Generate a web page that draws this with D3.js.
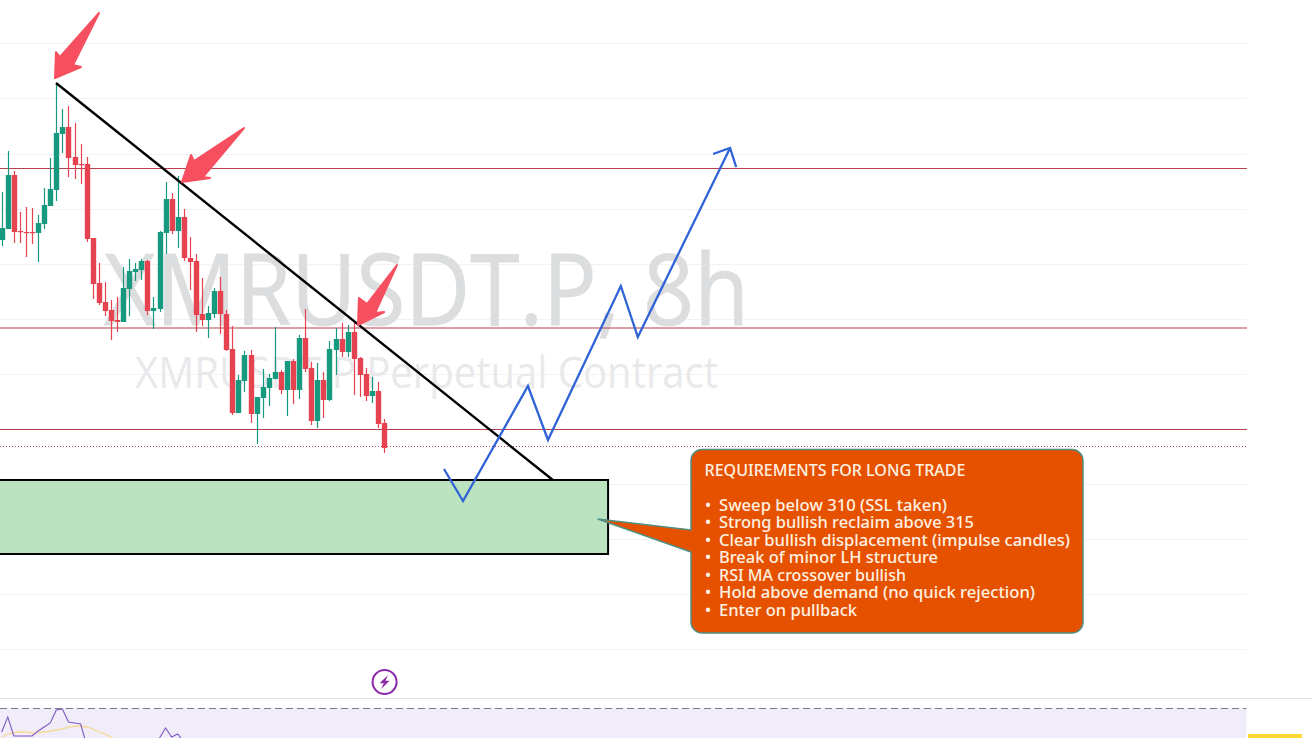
<!DOCTYPE html>
<html>
<head>
<meta charset="utf-8">
<style>
html,body{margin:0;padding:0;background:#fff;overflow:hidden}
svg{display:block}
</style>
<script src="https://cdn.jsdelivr.net/npm/d3@7/dist/d3.min.js"></script>
</head>
<body>
<svg id="chart" width="1312" height="738"></svg>
<script>
// Candles (price units estimated; the price axis labels are not shown)
const opens  = [363.8,366.0,376.8,365.6,365.4,365.4,365.2,367.0,370.6,373.8,385.0,386.4,380.4,379.0,379.0,364.2,355.2,351.4,349.8,347.8,347.4,354.0,357.4,357.8,359.6,349.6,350.0,365.2,372.0,365.6,368.4,360.2,359.6,349.0,347.8,349.0,353.6,349.0,342.0,329.2,335.6,340.8,329.0,332.2,334.2,336.0,337.4,333.8,339.6,333.8,344.2,338.2,327.6,335.8,331.8,341.8,344.0,341.4,345.4,340.2,337.0,332.6,333.6,327.2];
const highs  = [373.4,381.6,377.6,369.4,370.4,370.2,368.8,374.2,380.2,395.2,390.0,390.6,387.2,383.0,380.4,364.2,359.2,355.4,351.8,352.4,358.4,360.0,359.2,360.0,359.8,352.4,365.6,375.4,373.2,376.6,370.0,364.4,361.0,356.2,350.6,354.2,356.4,349.8,346.6,336.8,341.6,341.8,332.4,338.0,337.0,346.4,337.8,339.6,340.0,344.8,350.0,339.4,339.2,337.4,343.6,346.2,347.2,346.8,347.6,340.4,338.2,336.4,335.4,328.0];
const lows   = [362.6,366.0,363.2,363.2,360.4,363.0,359.4,366.0,370.6,371.6,381.2,376.4,376.0,375.0,363.4,352.0,350.8,348.6,343.8,345.4,347.4,348.6,355.6,355.8,348.8,346.0,349.4,361.0,365.0,362.2,359.6,353.8,345.4,346.6,344.2,348.2,345.0,341.6,328.8,329.2,333.4,327.2,323.0,328.2,330.6,336.0,333.0,328.6,331.0,332.0,337.4,326.8,326.2,328.2,331.6,336.8,340.4,340.4,332.8,332.4,331.6,331.2,326.2,321.2];
const closes = [366.2,376.8,365.4,365.4,365.2,365.2,367.2,370.8,374.0,385.2,386.4,380.2,378.8,378.8,364.0,355.0,351.2,349.6,347.6,347.4,354.2,357.6,358.0,359.6,349.6,350.2,365.4,372.0,365.6,368.4,360.2,359.4,348.8,347.8,349.2,353.6,349.0,341.8,329.2,335.8,340.8,329.0,332.4,334.4,336.2,337.4,333.8,339.6,333.8,344.2,338.0,327.6,335.8,331.8,342.0,344.0,341.4,345.4,340.0,336.8,332.6,333.6,327.0,322.2];

// Price gridlines and horizontal levels
const gridPrices = [403.2,392.2,381,370,359,348,337,326,315,304,293,282];
const levelPrices = [378.1,346.2,325.9];
const lastPrice = 322.5;

// Drawings, as [bar, price]
const trendLine = [[8.95,395.2],[90.8,315.8]];
const projection = [[72.87,318.0],[76.0,311.6],[86.7,334.6],[90.0,323.8],[102.0,354.6],[104.8,344.4],[120.0,382.2]];
const projectionHead = [[117.2,381.0],[120.0,382.2],[121.0,378.4]];
const arrowA = [[8.78,396.2],[8.95,401.4],[9.6,400.4],[16.03,409.2],[11.75,398.8],[13.06,398.4]];
const arrowB = [[29.7,375.4],[31.19,380.8],[31.68,379.6],[39.92,386.2],[33.16,376.4],[34.32,376.2]];
const arrowC = [[58.7,346.8],[58.86,352.2],[60.18,351.0],[65.12,358.8],[61.5,349.2],[63.0,349.4]];
const demandZone = {barEnd:99.9, top:315.8, bottom:301.0};

// Callout
const calloutTitle = "REQUIREMENTS FOR LONG TRADE";
const calloutLines = ["Sweep below 310 (SSL taken)","Strong bullish reclaim above 315","Clear bullish displacement (impulse candles)","Break of minor LH structure","RSI MA crossover bullish","Hold above demand (no quick rejection)","Enter on pullback"];
const calloutAnchor = [98.2,308];

// Watermark
const wmTitle = "XMRUSDT.P, 8h";
const wmSub = "XMRUSDT.P Perpetual Contract";

// RSI pane
const rsiBars = [0,1,2,3,4,5,6,7,8,9,10,11,12,13,14];
const rsiVals = [58,65.5,56,56,56,56,58.5,60.5,62.5,69,69.5,63,62.5,62,51.5];
const rsiBars2 = [25,26,27,28,29,30];
const rsiVals2 = [51.5,55,60,55.5,57,53];
const rsiMa = [55.5,57,57.7,58,58,57.6,57.7,58,58.4,59,59.6,60.4,60.8,61,60.5,59.5,58,57,55.5,53.5];

const svg = d3.select("#chart");
const plotRight = 1247;
const x = d3.scaleLinear().domain([0,63]).range([1.7,384.1]);
const y = d3.scaleLinear().domain([411.8,272.2]).range([0,698]);
const r = d3.scaleLinear().domain([70,40]).range([708,768]);
const pt = d => [x(d[0]),y(d[1])];
const GREEN="#16997f", RED="#e7424f";

// grid
svg.append("g").selectAll("line").data(gridPrices).join("line")
  .attr("x1",0).attr("x2",plotRight).attr("y1",d=>Math.round(y(d))+.5).attr("y2",d=>Math.round(y(d))+.5)
  .attr("stroke","#f1f2f4").attr("stroke-width",1);

// watermark
const wm = svg.append("g").attr("font-family","'Open Sans',sans-serif");
wm.append("text").attr("x",104).attr("y",325).attr("font-size",98).attr("fill","#dcddde").attr("stroke","#dcddde").attr("stroke-width",1)
  .attr("textLength",645).attr("lengthAdjust","spacingAndGlyphs").text(wmTitle);
wm.append("text").attr("x",135).attr("y",388).attr("font-size",44).attr("fill","#e9e9eb")
  .attr("textLength",583).attr("lengthAdjust","spacingAndGlyphs").text(wmSub);

// levels
svg.append("g").selectAll("line").data(levelPrices).join("line")
  .attr("x1",0).attr("x2",plotRight).attr("y1",d=>y(d)).attr("y2",d=>y(d))
  .attr("stroke","#b8404f").attr("stroke-width",1.1);
svg.append("line").attr("x1",0).attr("x2",plotRight).attr("y1",Math.round(y(lastPrice))-.5).attr("y2",Math.round(y(lastPrice))-.5)
  .attr("stroke","#a8505c").attr("stroke-width",1).attr("stroke-dasharray","1 2");

// candles
const candles = d3.range(opens.length);
const cg = svg.append("g");
cg.selectAll("line").data(candles).join("line")
  .attr("x1",i=>Math.round(x(i))+.5).attr("x2",i=>Math.round(x(i))+.5)
  .attr("y1",i=>y(highs[i])).attr("y2",i=>y(lows[i]))
  .attr("stroke",i=>closes[i]>=opens[i]?GREEN:RED).attr("stroke-width",1.2);
cg.selectAll("rect").data(candles).join("rect")
  .attr("x",i=>Math.round(x(i))-2.2).attr("width",5.4)
  .attr("y",i=>y(Math.max(opens[i],closes[i])))
  .attr("height",i=>Math.max(1.2,Math.abs(y(opens[i])-y(closes[i]))))
  .attr("fill",i=>closes[i]>=opens[i]?GREEN:RED);

// demand zone
svg.append("rect").attr("x",-3).attr("width",x(demandZone.barEnd)+3)
  .attr("y",y(demandZone.top)).attr("height",y(demandZone.bottom)-y(demandZone.top))
  .attr("fill","#bce3bf").attr("stroke","#000").attr("stroke-width",2);

// trend line
svg.append("path").attr("d",d3.line()(trendLine.map(pt))).attr("fill","none").attr("stroke","#000").attr("stroke-width",2.4);

// projected path
const blue = svg.append("g").attr("fill","none").attr("stroke","#2f63d6").attr("stroke-width",2.3).attr("stroke-linejoin","miter");
blue.append("path").attr("d",d3.line()(projection.map(pt)));
blue.append("path").attr("d",d3.line()(projectionHead.map(pt)));

// red arrows
svg.append("defs").append("filter").attr("id","soft").append("feGaussianBlur").attr("stdDeviation",0.5);
svg.append("g").selectAll("path").data([arrowA,arrowB,arrowC]).join("path")
  .attr("d",d=>d3.line()(d.map(pt))+"Z").attr("fill","#f6505e").attr("stroke","#f6505e").attr("stroke-width",2).attr("stroke-linejoin","round").attr("filter","url(#soft)");

// callout
const bx=691, by=449.5, bw=392, bh=183.5, rad=11;
const anchor = pt(calloutAnchor);
const cp = d3.path();
cp.moveTo(bx+rad,by); cp.lineTo(bx+bw-rad,by); cp.arcTo(bx+bw,by,bx+bw,by+rad,rad);
cp.lineTo(bx+bw,by+bh-rad); cp.arcTo(bx+bw,by+bh,bx+bw-rad,by+bh,rad);
cp.lineTo(bx+rad,by+bh); cp.arcTo(bx,by+bh,bx,by+bh-rad,rad);
cp.lineTo(bx,552); cp.lineTo(anchor[0],anchor[1]); cp.lineTo(bx,530);
cp.lineTo(bx,by+rad); cp.arcTo(bx,by,bx+rad,by,rad); cp.closePath();
svg.append("path").attr("d",cp.toString()).attr("fill","#e65100").attr("stroke","#4f8f84").attr("stroke-width",1.5);
const ct = svg.append("g").attr("font-family","'Noto Sans',sans-serif").attr("font-size",16.4).attr("fill","#fff1e2").attr("font-weight",500);
ct.append("text").attr("x",704.5).attr("y",475.5).attr("textLength",261).attr("lengthAdjust","spacingAndGlyphs").text(calloutTitle);
const widths=[228,255,351,219,187,316,138];
ct.selectAll("text.l").data(calloutLines).join("text").attr("class","l")
  .attr("x",719).attr("y",(d,i)=>510.5+i*17.58)
  .attr("textLength",(d,i)=>widths[i]).attr("lengthAdjust","spacingAndGlyphs").text(d=>d);
ct.selectAll("text.b").data(calloutLines).join("text").attr("class","b")
  .attr("x",705).attr("y",(d,i)=>510.5+i*17.58).text("•");

// bolt marker
const bolt = svg.append("g").attr("transform",`translate(${x(63)+.5},682)`);
bolt.append("circle").attr("r",12).attr("fill","#fff").attr("stroke","#8a2aa8").attr("stroke-width",2);
bolt.append("path").attr("d","M3.5,-7 L-5,1.2 L-0.8,1.2 L-3.5,7 L5,-1.2 L0.8,-1.2 Z").attr("fill","#8a2aa8");

// RSI pane
svg.append("line").attr("x1",0).attr("x2",1312).attr("y1",698.5).attr("y2",698.5).attr("stroke","#e2e3e6");
svg.append("rect").attr("x",0).attr("y",708).attr("width",plotRight-.5).attr("height",30).attr("fill","#f0ecfa");
svg.append("line").attr("x1",0).attr("x2",plotRight-.5).attr("y1",708.5).attr("y2",708.5).attr("stroke","#787b86").attr("stroke-dasharray","7 4");
const rl = d3.line();
svg.append("path").attr("d",rl(rsiMa.map((v,i)=>[x(i),r(v)]))).attr("fill","none").attr("stroke","#f6d98e").attr("stroke-width",1.3);
svg.append("path").attr("d",rl(rsiBars.map((b,i)=>[x(b),r(rsiVals[i])]))).attr("fill","none").attr("stroke","#7e57c2").attr("stroke-width",1.1);
svg.append("path").attr("d",rl(rsiBars2.map((b,i)=>[x(b),r(rsiVals2[i])]))).attr("fill","none").attr("stroke","#7e57c2").attr("stroke-width",1.1);
svg.append("rect").attr("x",1248).attr("y",734).attr("width",54).attr("height",4).attr("fill","#fdd835");
</script>
</body>
</html>
